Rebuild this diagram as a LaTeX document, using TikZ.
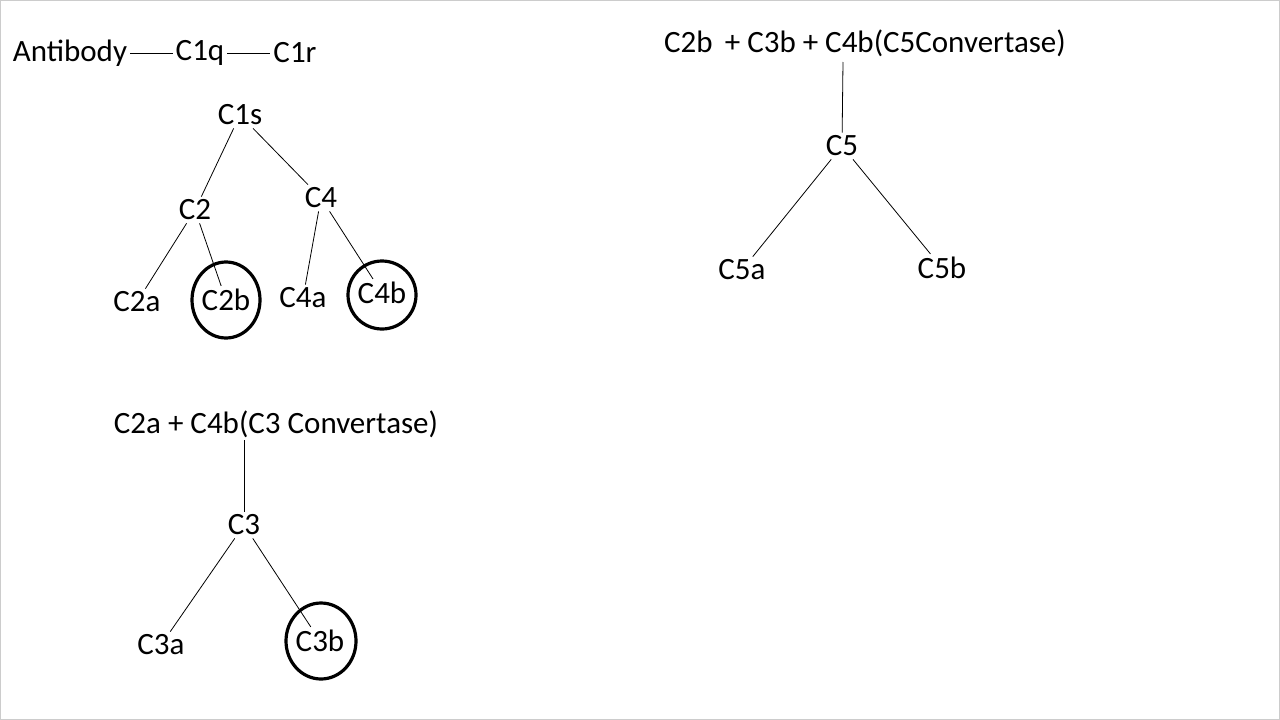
\documentclass[tikz,border=0pt]{standalone}
\usepackage{fontspec}
\usetikzlibrary{shapes.geometric}
\setmainfont{Carlito}
\begin{document}
\begin{tikzpicture}[x=1pt,y=-1pt,
  t/.style={font=\fontsize{31}{36}\selectfont,inner sep=3pt},
  ring/.style={draw,line width=3.2pt,ellipse,minimum width=66pt,minimum height=74pt},
  ln/.style={line width=0.8pt}]
\useasboundingbox (0,0) rectangle (1280,720);
\draw[gray!40,line width=1pt] (0.5,0.5) rectangle (1279.5,719.5);
\node[t] (ab) at (70,53) {Antibody};
\node[t] (c1q) at (200,53) {C1q};
\node[t] (c1r) at (295,53) {C1r};
\node[t] (c1s) at (240,115) {C1s};
\node[t] (c2) at (195,210) {C2};
\node[t] (c4) at (321,198) {C4};
\node[t] (c2a) at (137,302) {C2a};
\node[t] (c2b) at (226,300) {C2b};
\node[t] (c4a) at (303,298) {C4a};
\node[t] (c4b) at (382,293) {C4b};
\node[ring,minimum width=68pt,minimum height=76pt] (r2b) at (226,300) {};
\node[ring,minimum width=68pt,minimum height=68pt] (r4b) at (382,295) {};
\draw[ln] (ab) -- (c1q);
\draw[ln] (c1q) -- (c1r);
\draw[ln] (c1s) -- (c2);
\draw[ln] (c1s) -- (c4);
\draw[ln] (c2) -- (c2a);
\draw[ln] (c2) -- (c2b);
\draw[ln] (c4) -- (c4a);
\draw[ln] (c4) -- (c4b);
\node[t] (cv3) at (276,424) {C2a + C4b(C3 Convertase)};
\coordinate (cv3b) at (244,440);
\node[t] (c3) at (244,525) {C3};
\node[t] (c3a) at (161,645) {C3a};
\node[t] (c3b) at (320,641) {C3b};
\node[ring,minimum width=70pt,minimum height=76pt] (r3b) at (321,641) {};
\draw[ln] (cv3b) -- (c3);
\draw[ln] (c3) -- (c3a);
\draw[ln] (c3) -- (c3b);
\node[t] (cv5) at (865,43) {C2b \,+ C3b + C4b(C5Convertase)};
\coordinate (cv5b) at (843,62);
\node[t] (c5) at (842,146) {C5};
\node[t] (c5a) at (742,270) {C5a};
\node[t] (c5b) at (942,268) {C5b};
\draw[ln] (cv5b) -- (c5);
\draw[ln] (c5) -- (c5a);
\draw[ln] (c5) -- (c5b);
\end{tikzpicture}
\end{document}
